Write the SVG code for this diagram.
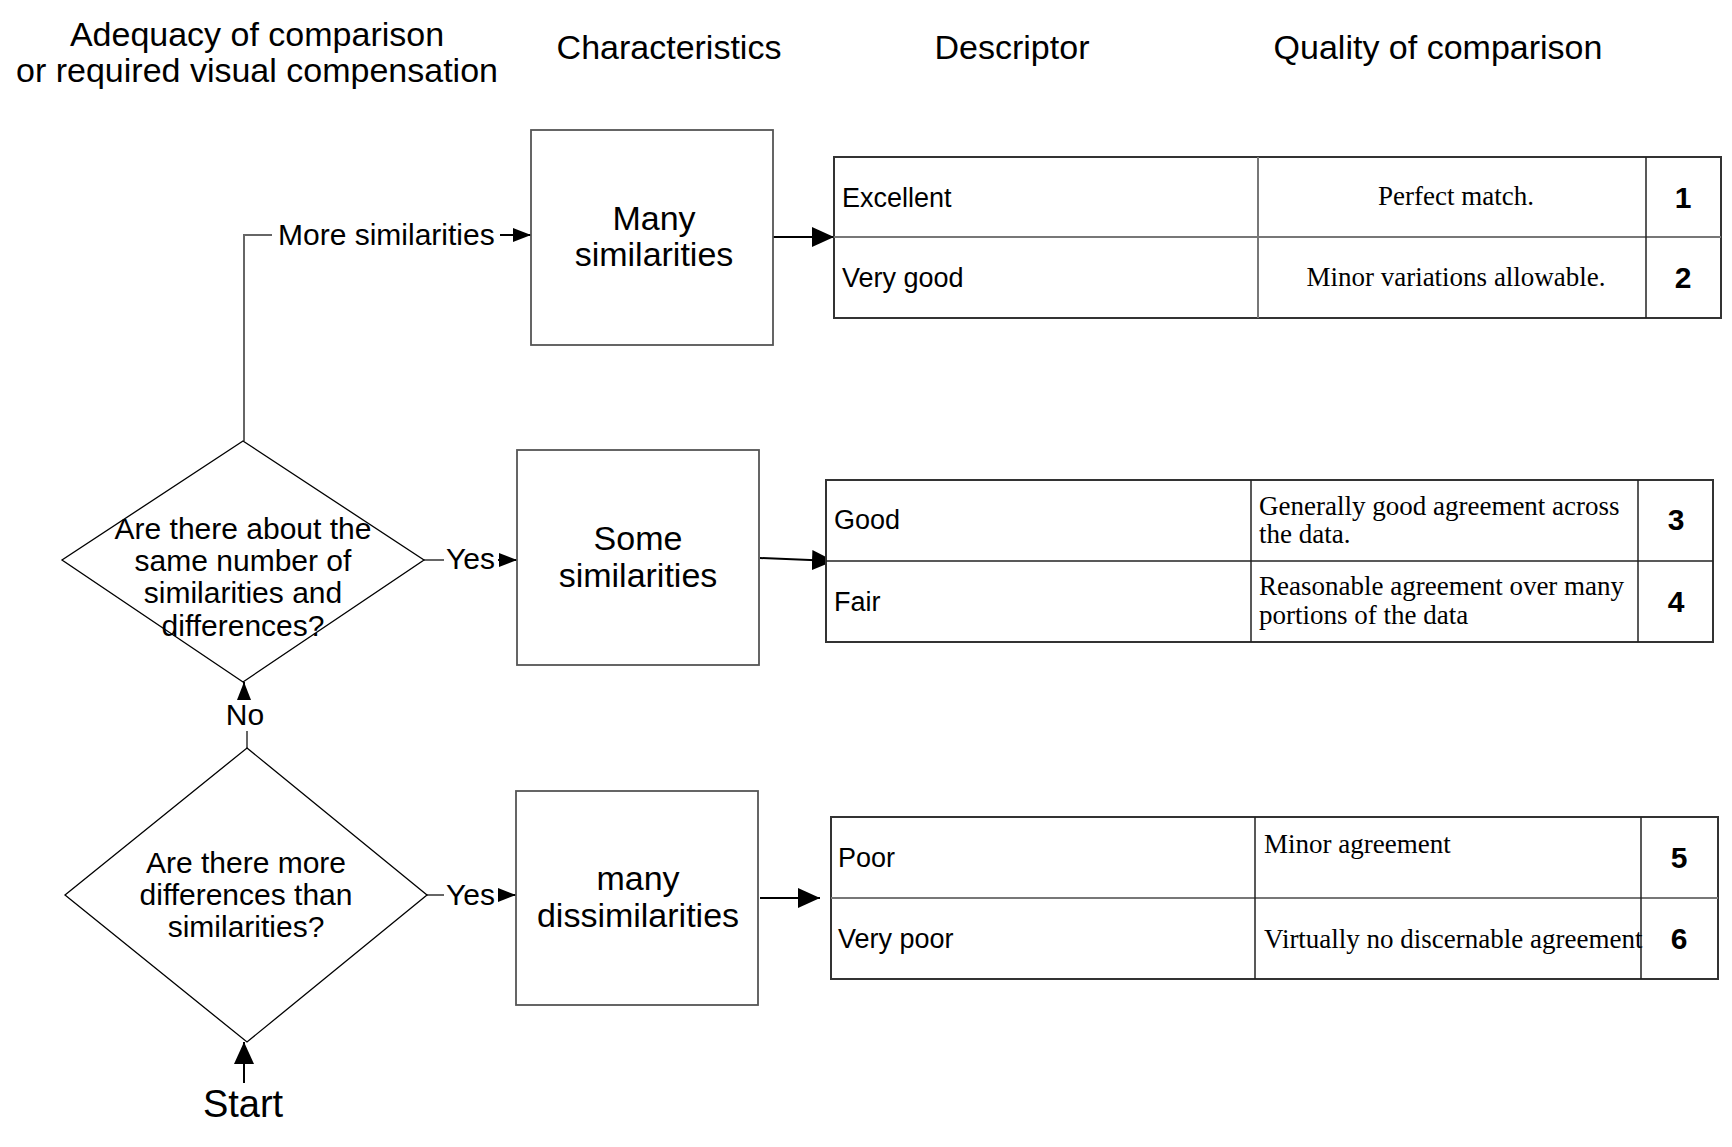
<svg xmlns="http://www.w3.org/2000/svg" width="1732" height="1147" viewBox="0 0 1732 1147">
<style>
.hdr{font-family:"Liberation Sans",Arial,sans-serif;font-size:34px;fill:#000;text-anchor:middle}
.box{fill:#fff;stroke:#555;stroke-width:1.8}
.dia{fill:#fff;stroke:#000;stroke-width:1.3}
.bt{font-family:"Liberation Sans",Arial,sans-serif;font-size:34px;fill:#000;text-anchor:middle}
.dt{font-family:"Liberation Sans",Arial,sans-serif;font-size:30px;fill:#000;text-anchor:middle}
.lbl{font-family:"Liberation Sans",Arial,sans-serif;font-size:30px;fill:#000}
.tbl{fill:#fff;stroke:#333;stroke-width:2}
.div{stroke:#777;stroke-width:2}
.div2{stroke:#222;stroke-width:1.5}
.ta{font-family:"Liberation Sans",Arial,sans-serif;font-size:27px;fill:#000}
.tt{font-family:"Liberation Serif","Times New Roman",serif;font-size:27px;fill:#000}
.num{font-family:"Liberation Sans",Arial,sans-serif;font-size:30px;font-weight:bold;fill:#000;text-anchor:middle}
.ln{fill:none;stroke:#000;stroke-width:2}
.lng{fill:none;stroke:#666;stroke-width:2}
</style>
<defs>
<marker id="ah" markerUnits="userSpaceOnUse" markerWidth="19" markerHeight="14" refX="18" refY="7" orient="auto">
<path d="M0,0 L18,7 L0,14 z" fill="#000"/>
</marker>
<marker id="ahl" markerUnits="userSpaceOnUse" markerWidth="23" markerHeight="20" refX="22" refY="10" orient="auto">
<path d="M0,0 L22,10 L0,20 z" fill="#000"/>
</marker>
</defs>
<rect width="1732" height="1147" fill="#fff"/>

<g id="headers">
<text class="hdr" x="257" y="46">Adequacy of comparison</text>
<text class="hdr" x="257" y="82">or required visual compensation</text>
<text class="hdr" x="669" y="59">Characteristics</text>
<text class="hdr" x="1012" y="59">Descriptor</text>
<text class="hdr" x="1438" y="59">Quality of comparison</text>
</g>

<g id="connectors">
<path class="lng" d="M244,441 V235 H272"/>
<text class="lbl" x="278" y="245">More similarities</text>
<path class="ln" d="M500,235 H531" marker-end="url(#ah)"/>
<path class="lng" d="M424,560 H444"/>
<text class="lbl" x="446" y="569">Yes</text>
<path class="ln" d="M498,560 H517" marker-end="url(#ah)"/>
<path class="lng" d="M427,895 H444"/>
<text class="lbl" x="446" y="905">Yes</text>
<path class="ln" d="M498,895 H516" marker-end="url(#ah)"/>
<path class="lng" d="M247,748 V731"/>
<text class="lbl" x="245" y="725" text-anchor="middle">No</text>
<path class="ln" d="M244,700 V682" marker-end="url(#ah)"/>
<path class="ln" d="M244,1083 V1042" marker-end="url(#ahl)"/>
<text id="start" x="243" y="1117" font-family="Liberation Sans, Arial, sans-serif" font-size="38" text-anchor="middle">Start</text>
<path class="ln" d="M773,237 H834" marker-end="url(#ahl)"/>
<path class="ln" d="M760,558 L834,561" marker-end="url(#ahl)"/>
<path class="ln" d="M760,898 H820" marker-end="url(#ahl)"/>
</g>

<g id="decision-more-differences">
<polygon class="dia" points="247,748 427,895 247,1042 65,895"/>
<text class="dt" x="246" y="873">Are there more</text>
<text class="dt" x="246" y="905">differences than</text>
<text class="dt" x="246" y="937">similarities?</text>
</g>

<g id="decision-same-number">
<polygon class="dia" points="243,441 424,560 243,682 62,560"/>
<text class="dt" x="243" y="539">Are there about the</text>
<text class="dt" x="243" y="571">same number of</text>
<text class="dt" x="243" y="603">similarities and</text>
<text class="dt" x="243" y="636">differences?</text>
</g>

<g id="box-many-similarities">
<rect class="box" x="531" y="130" width="242" height="215"/>
<text class="bt" x="654" y="230">Many</text>
<text class="bt" x="654" y="266">similarities</text>
</g>

<g id="box-some-similarities">
<rect class="box" x="517" y="450" width="242" height="215"/>
<text class="bt" x="638" y="550">Some</text>
<text class="bt" x="638" y="587">similarities</text>
</g>

<g id="box-many-dissimilarities">
<rect class="box" x="516" y="791" width="242" height="214"/>
<text class="bt" x="638" y="890">many</text>
<text class="bt" x="638" y="927">dissimilarities</text>
</g>

<g id="table-1">
<rect class="tbl" x="834" y="157" width="887" height="161"/>
<line class="div" x1="834" y1="237" x2="1721" y2="237"/>
<line class="div" x1="1258" y1="157" x2="1258" y2="318"/>
<line class="div2" x1="1646" y1="157" x2="1646" y2="318"/>
<text class="ta" x="842" y="207">Excellent</text>
<text class="ta" x="842" y="287">Very good</text>
<text class="tt" x="1456" y="205" text-anchor="middle">Perfect match.</text>
<text class="tt" x="1456" y="286" text-anchor="middle">Minor variations allowable.</text>
<text class="num" x="1683" y="208">1</text>
<text class="num" x="1683" y="288">2</text>
</g>

<g id="table-2">
<rect class="tbl" x="826" y="480" width="887" height="162"/>
<line class="div2" x1="826" y1="561" x2="1713" y2="561"/>
<line class="div2" x1="1251" y1="480" x2="1251" y2="642"/>
<line class="div2" x1="1638" y1="480" x2="1638" y2="642"/>
<text class="ta" x="834" y="529">Good</text>
<text class="ta" x="834" y="611">Fair</text>
<text class="tt" x="1259" y="515">Generally good agreement across</text>
<text class="tt" x="1259" y="543">the data.</text>
<text class="tt" x="1259" y="595">Reasonable agreement over many</text>
<text class="tt" x="1259" y="624">portions of the data</text>
<text class="num" x="1676" y="530">3</text>
<text class="num" x="1676" y="612">4</text>
</g>

<g id="table-3">
<rect class="tbl" x="831" y="817" width="887" height="162"/>
<line class="div" x1="831" y1="898" x2="1718" y2="898"/>
<line class="div2" x1="1255" y1="817" x2="1255" y2="979"/>
<line class="div2" x1="1641" y1="817" x2="1641" y2="979"/>
<text class="ta" x="838" y="867">Poor</text>
<text class="ta" x="838" y="948">Very poor</text>
<text class="tt" x="1264" y="853">Minor agreement</text>
<text class="tt" x="1264" y="948">Virtually no discernable agreement</text>
<text class="num" x="1679" y="868">5</text>
<text class="num" x="1679" y="949">6</text>
</g>
</svg>
